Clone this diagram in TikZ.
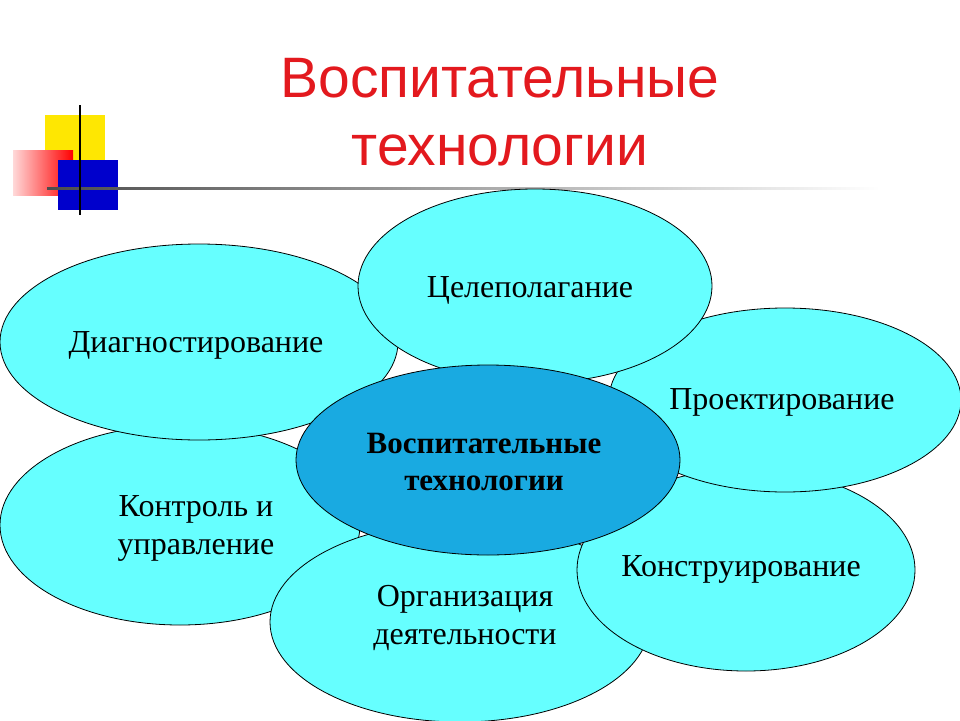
\documentclass[tikz,border=0pt]{standalone}
\usepackage{fontspec}
\setmainfont{Liberation Serif}
\newfontfamily\titlefont{Liberation Sans}
\definecolor{petalc}{RGB}{102,255,255}
\definecolor{centc}{RGB}{25,170,225}
\definecolor{titc}{RGB}{227,25,30}
\begin{document}
\begin{tikzpicture}[x=1pt,y=-1pt,
  lbl/.style={align=center,font=\fontsize{32}{38}\selectfont},
  pet/.style={draw=black,line width=0.8pt,fill=petalc}]
\useasboundingbox (0,0) rectangle (960,720);
\fill[white] (0,0) rectangle (960,720);
% decoration
\fill[yellow!90!orange] (45,115) rectangle (105,160);
\shade[left color=red!15,right color=red] (13,150) rectangle (73,195);
\fill[blue!80!black] (58,160) rectangle (118,210);
\shade[left color=black!70,right color=white] (47,187) rectangle (880,189);
\draw[line width=1.2pt] (80,105) -- (80,215);
\node[text=titc,font=\titlefont\fontsize{57}{68}\selectfont,align=center] (title) at (500,112) {Воспитательные\\технологии};
% petals
\filldraw[pet] (180,525) ellipse [x radius=180,y radius=100];
\filldraw[pet] (460,622) ellipse [x radius=190,y radius=100];
\filldraw[pet] (746,570) ellipse [x radius=169,y radius=101];
\filldraw[pet] (785,400) ellipse [x radius=176,y radius=92];
\filldraw[pet] (199,342) ellipse [x radius=199,y radius=98];
\filldraw[pet] (535,286) ellipse [x radius=177,y radius=97];
\filldraw[draw=black,line width=0.8pt,fill=centc] (488,460) ellipse [x radius=192,y radius=95];
\node[lbl] (k) at (196,528) {Контроль и\\управление};
\node[lbl] (o) at (465,618) {Организация\\деятельности};
\node[lbl] (c) at (741,569) {Конструирование};
\node[lbl] (p) at (782,402) {Проектирование};
\node[lbl] (d) at (196,345) {Диагностирование};
\node[lbl] (t) at (530,290) {Целеполагание};
\node[lbl,font=\bfseries\fontsize{31}{37}\selectfont] (m) at (484,462) {Воспитательные\\технологии};
\end{tikzpicture}
\end{document}
